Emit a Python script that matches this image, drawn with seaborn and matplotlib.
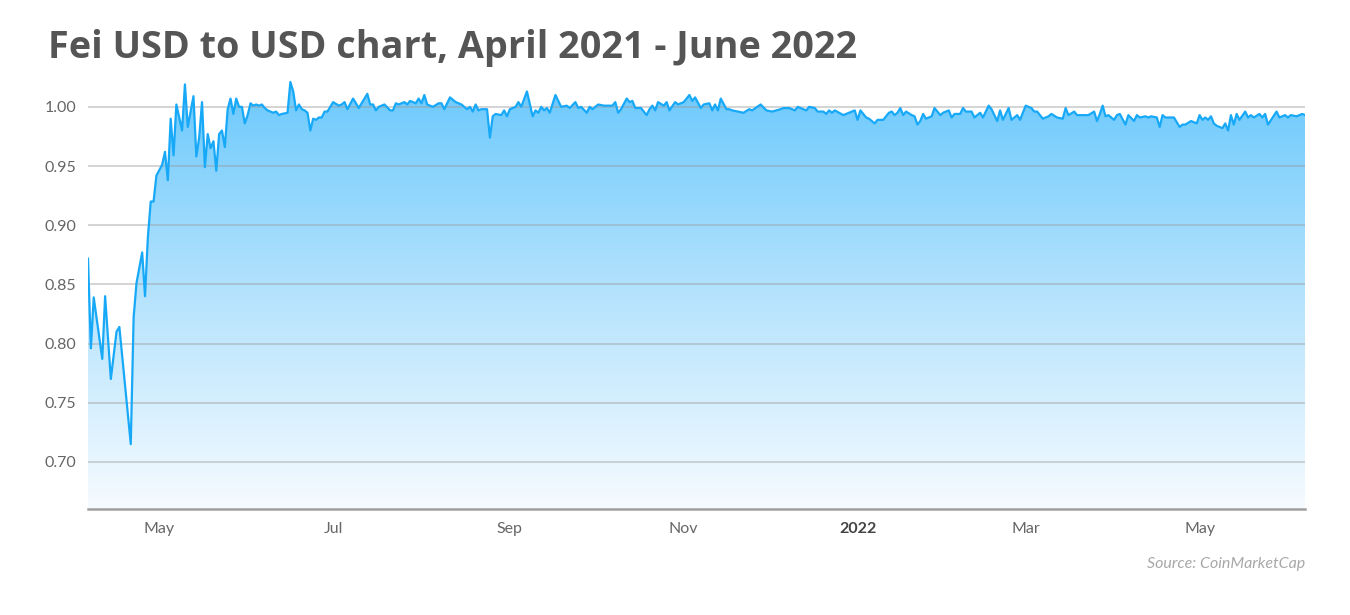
import numpy as np
import pandas as pd
import matplotlib
matplotlib.use("Agg")
import matplotlib.pyplot as plt
import matplotlib.dates as mdates
from matplotlib.colors import LinearSegmentedColormap
import seaborn as sns

# Fei USD daily price (days counted from 2021-04-06)
start_date = "2021-04-06"
day_offset = [
    0, 1, 2, 5, 6, 8, 10, 11, 15, 16, 17, 18, 19, 20, 21, 22, 23, 24, 26, 27,
    28, 29, 30, 31, 33, 34, 35, 37, 38, 39, 40, 41, 42, 43, 44, 45, 46, 47, 48, 49,
    50, 51, 52, 53, 54, 55, 56, 57, 58, 59, 60, 61, 62, 63, 65, 66, 67, 68, 70, 71,
    72, 73, 74, 75, 76, 77, 78, 79, 80, 81, 82, 83, 84, 86, 88, 89, 90, 91, 93, 95,
    98, 99, 100, 101, 102, 104, 106, 107, 108, 109, 111, 112, 113, 115, 116, 117, 118, 119, 121, 123,
    124, 125, 127, 129, 131, 133, 134, 135, 136, 137, 138, 140, 141, 142, 143, 145, 146, 147, 148, 150,
    151, 152, 154, 156, 157, 158, 159, 160, 161, 162, 164, 166, 168, 169, 171, 172, 173, 175, 176, 177,
    179, 181, 184, 185, 186, 187, 189, 190, 191, 192, 194, 196, 197, 198, 199, 200, 202, 203, 204, 206,
    207, 209, 211, 212, 213, 215, 216, 218, 219, 220, 221, 222, 224, 225, 226, 230, 232, 233, 236, 238,
    240, 243, 244, 246, 248, 249, 251, 252, 253, 255, 256, 258, 259, 260, 261, 262, 265, 269, 270, 271,
    273, 274, 276, 277, 279, 281, 282, 283, 284, 285, 286, 287, 289, 290, 291, 292, 293, 294, 296, 297,
    299, 300, 302, 303, 304, 306, 307, 308, 310, 311, 313, 314, 316, 317, 319, 320, 321, 323, 324, 326,
    327, 329, 331, 332, 333, 335, 337, 338, 340, 342, 343, 344, 346, 347, 349, 351, 353, 354, 355, 356,
    357, 358, 360, 361, 362, 364, 365, 367, 368, 369, 371, 372, 373, 375, 376, 377, 378, 380, 381, 383,
    384, 385, 387, 389, 390, 391, 392, 393, 394, 395, 396, 398, 399, 400, 401, 402, 403, 404, 406, 407,
    408, 409, 411, 412, 413, 414, 417, 418, 420, 421, 422, 424, 426, 427,
]
price = [
    0.872, 0.796, 0.839, 0.787, 0.840, 0.770, 0.810, 0.814, 0.715, 0.822, 0.851, 0.864, 0.877, 0.840, 0.890, 0.920, 0.920, 0.942, 0.951, 0.962,
    0.938, 0.990, 0.959, 1.002, 0.980, 1.019, 0.983, 1.009, 0.958, 0.974, 1.004, 0.949, 0.977, 0.965, 0.971, 0.946, 0.977, 0.980, 0.966, 0.998,
    1.007, 0.994, 1.007, 1.000, 1.000, 0.986, 0.993, 1.003, 1.001, 1.002, 1.001, 1.002, 0.999, 0.997, 0.995, 0.996, 0.993, 0.994, 0.995, 1.021,
    1.013, 0.997, 1.002, 0.998, 0.997, 0.995, 0.980, 0.990, 0.989, 0.991, 0.991, 0.996, 0.996, 1.004, 1.001, 1.002, 1.004, 0.998, 1.007, 0.999,
    1.011, 1.002, 1.002, 0.997, 1.000, 1.002, 0.997, 0.997, 1.003, 1.002, 1.004, 1.002, 1.005, 1.003, 1.007, 1.003, 1.010, 1.002, 1.000, 1.003,
    1.003, 0.998, 1.008, 1.004, 1.002, 0.998, 1.000, 0.996, 1.002, 0.997, 0.998, 0.998, 0.974, 0.992, 0.994, 0.993, 0.997, 0.992, 0.998, 1.000,
    1.004, 1.000, 1.013, 0.992, 0.997, 0.995, 1.000, 0.997, 0.999, 0.995, 1.010, 1.000, 1.001, 0.999, 1.004, 0.999, 1.000, 0.995, 1.000, 0.998,
    1.002, 1.001, 1.001, 1.004, 0.995, 0.998, 1.007, 1.004, 1.005, 0.999, 0.999, 0.993, 0.998, 1.001, 0.997, 1.004, 1.001, 1.004, 0.997, 1.004,
    1.002, 1.004, 1.010, 1.005, 1.008, 0.999, 1.002, 1.003, 0.997, 1.002, 0.997, 1.007, 0.998, 0.998, 0.997, 0.995, 0.998, 0.997, 1.002, 0.997,
    0.996, 0.998, 0.999, 0.999, 0.997, 1.000, 0.998, 0.997, 1.000, 0.999, 0.996, 0.996, 0.994, 0.997, 0.995, 0.997, 0.993, 0.997, 0.989, 0.997,
    0.991, 0.990, 0.986, 0.989, 0.989, 0.995, 0.996, 0.993, 0.995, 0.999, 0.993, 0.996, 0.993, 0.992, 0.985, 0.988, 0.994, 0.990, 0.992, 0.999,
    0.993, 0.995, 0.997, 0.991, 0.994, 0.994, 0.999, 0.996, 0.996, 0.991, 0.995, 0.991, 1.001, 0.998, 0.988, 0.997, 0.989, 0.999, 0.989, 0.993,
    0.989, 1.001, 0.999, 0.996, 0.996, 0.990, 0.992, 0.994, 0.991, 0.990, 0.999, 0.993, 0.996, 0.993, 0.993, 0.993, 0.996, 0.988, 0.994, 1.001,
    0.992, 0.993, 0.989, 0.993, 0.994, 0.985, 0.993, 0.988, 0.993, 0.991, 0.992, 0.991, 0.992, 0.991, 0.983, 0.993, 0.991, 0.991, 0.991, 0.983,
    0.985, 0.985, 0.988, 0.986, 0.993, 0.989, 0.991, 0.989, 0.992, 0.986, 0.984, 0.982, 0.986, 0.980, 0.993, 0.985, 0.994, 0.989, 0.996, 0.991,
    0.993, 0.991, 0.994, 0.991, 0.994, 0.985, 0.996, 0.991, 0.993, 0.991, 0.993, 0.992, 0.994, 0.993,
]

tick_dates = ["2021-05-01", "2021-07-01", "2021-09-01", "2021-11-01", "2022-01-01", "2022-03-01", "2022-05-01"]
tick_labels = ["May", "Jul", "Sep", "Nov", "2022", "Mar", "May"]
y_ticks = [0.70, 0.75, 0.80, 0.85, 0.90, 0.95, 1.00]

title = "Fei USD to USD chart, April 2021 - June 2022"
source = "Source: CoinMarketCap"

df = pd.DataFrame({
    "date": pd.Timestamp(start_date) + pd.to_timedelta(day_offset, unit="D"),
    "price": price,
})

sns.set_style("white")
plt.rcParams["font.family"] = ["Lato", "DejaVu Sans"]

fig = plt.figure(figsize=(13.5, 6.15), dpi=100)
ax = fig.add_axes([0.0652, 0.172, 0.9015, 0.712])

y_bottom, y_top = 0.66, 1.03
x0 = mdates.date2num(df["date"].iloc[0])
x1 = mdates.date2num(df["date"].iloc[-1])

# gradient fill under the line
poly = ax.fill_between(df["date"], df["price"], y_bottom, color="none", lw=0)
cmap = LinearSegmentedColormap.from_list("fade", ["#f6fbff", "#b5e3fd", "#6bc9fc"])
grad = np.linspace(1, 0, 256).reshape(-1, 1)
img = ax.imshow(grad, cmap=cmap, aspect="auto", origin="upper",
                extent=[x0, x1, y_bottom, 1.02], zorder=1)
img.set_clip_path(poly.get_paths()[0], transform=ax.transData)

sns.lineplot(data=df, x="date", y="price", ax=ax, color="#17a9f8",
             linewidth=1.6, zorder=3)

for y in y_ticks:
    ax.axhline(y, color="#9a9a9a", alpha=0.45, linewidth=1.3, zorder=2)

ax.set_xlim(x0, x1)
ax.set_ylim(y_bottom, y_top)
ax.set_yticks(y_ticks)
ax.set_yticklabels([f"{v:.2f}" for v in y_ticks])
ax.set_xticks(pd.to_datetime(tick_dates))
ax.set_xticklabels(tick_labels)
ax.set_xlabel("")
ax.set_ylabel("")
ax.tick_params(axis="both", length=0, labelsize=11.5, labelcolor="#666666")
ax.tick_params(axis="x", pad=9)
ax.tick_params(axis="y", pad=8.5)
for lab in ax.get_xticklabels():
    if lab.get_text() == "2022":
        lab.set_fontweight("bold")
        lab.set_color("#444444")

for side in ["top", "right", "left"]:
    ax.spines[side].set_visible(False)
ax.spines["bottom"].set_color("#a0a0a0")
ax.spines["bottom"].set_linewidth(1.8)

fig.text(0.0355, 0.906, title, fontsize=27.2, fontweight="bold", color="#555555",
         ha="left", va="baseline", family=["Open Sans", "DejaVu Sans"])
fig.text(0.967, 0.077, source, fontsize=11.5, style="italic", color="#a8a8a8",
         ha="right", va="baseline")

fig.savefig("out.png", dpi=100, facecolor="white")
